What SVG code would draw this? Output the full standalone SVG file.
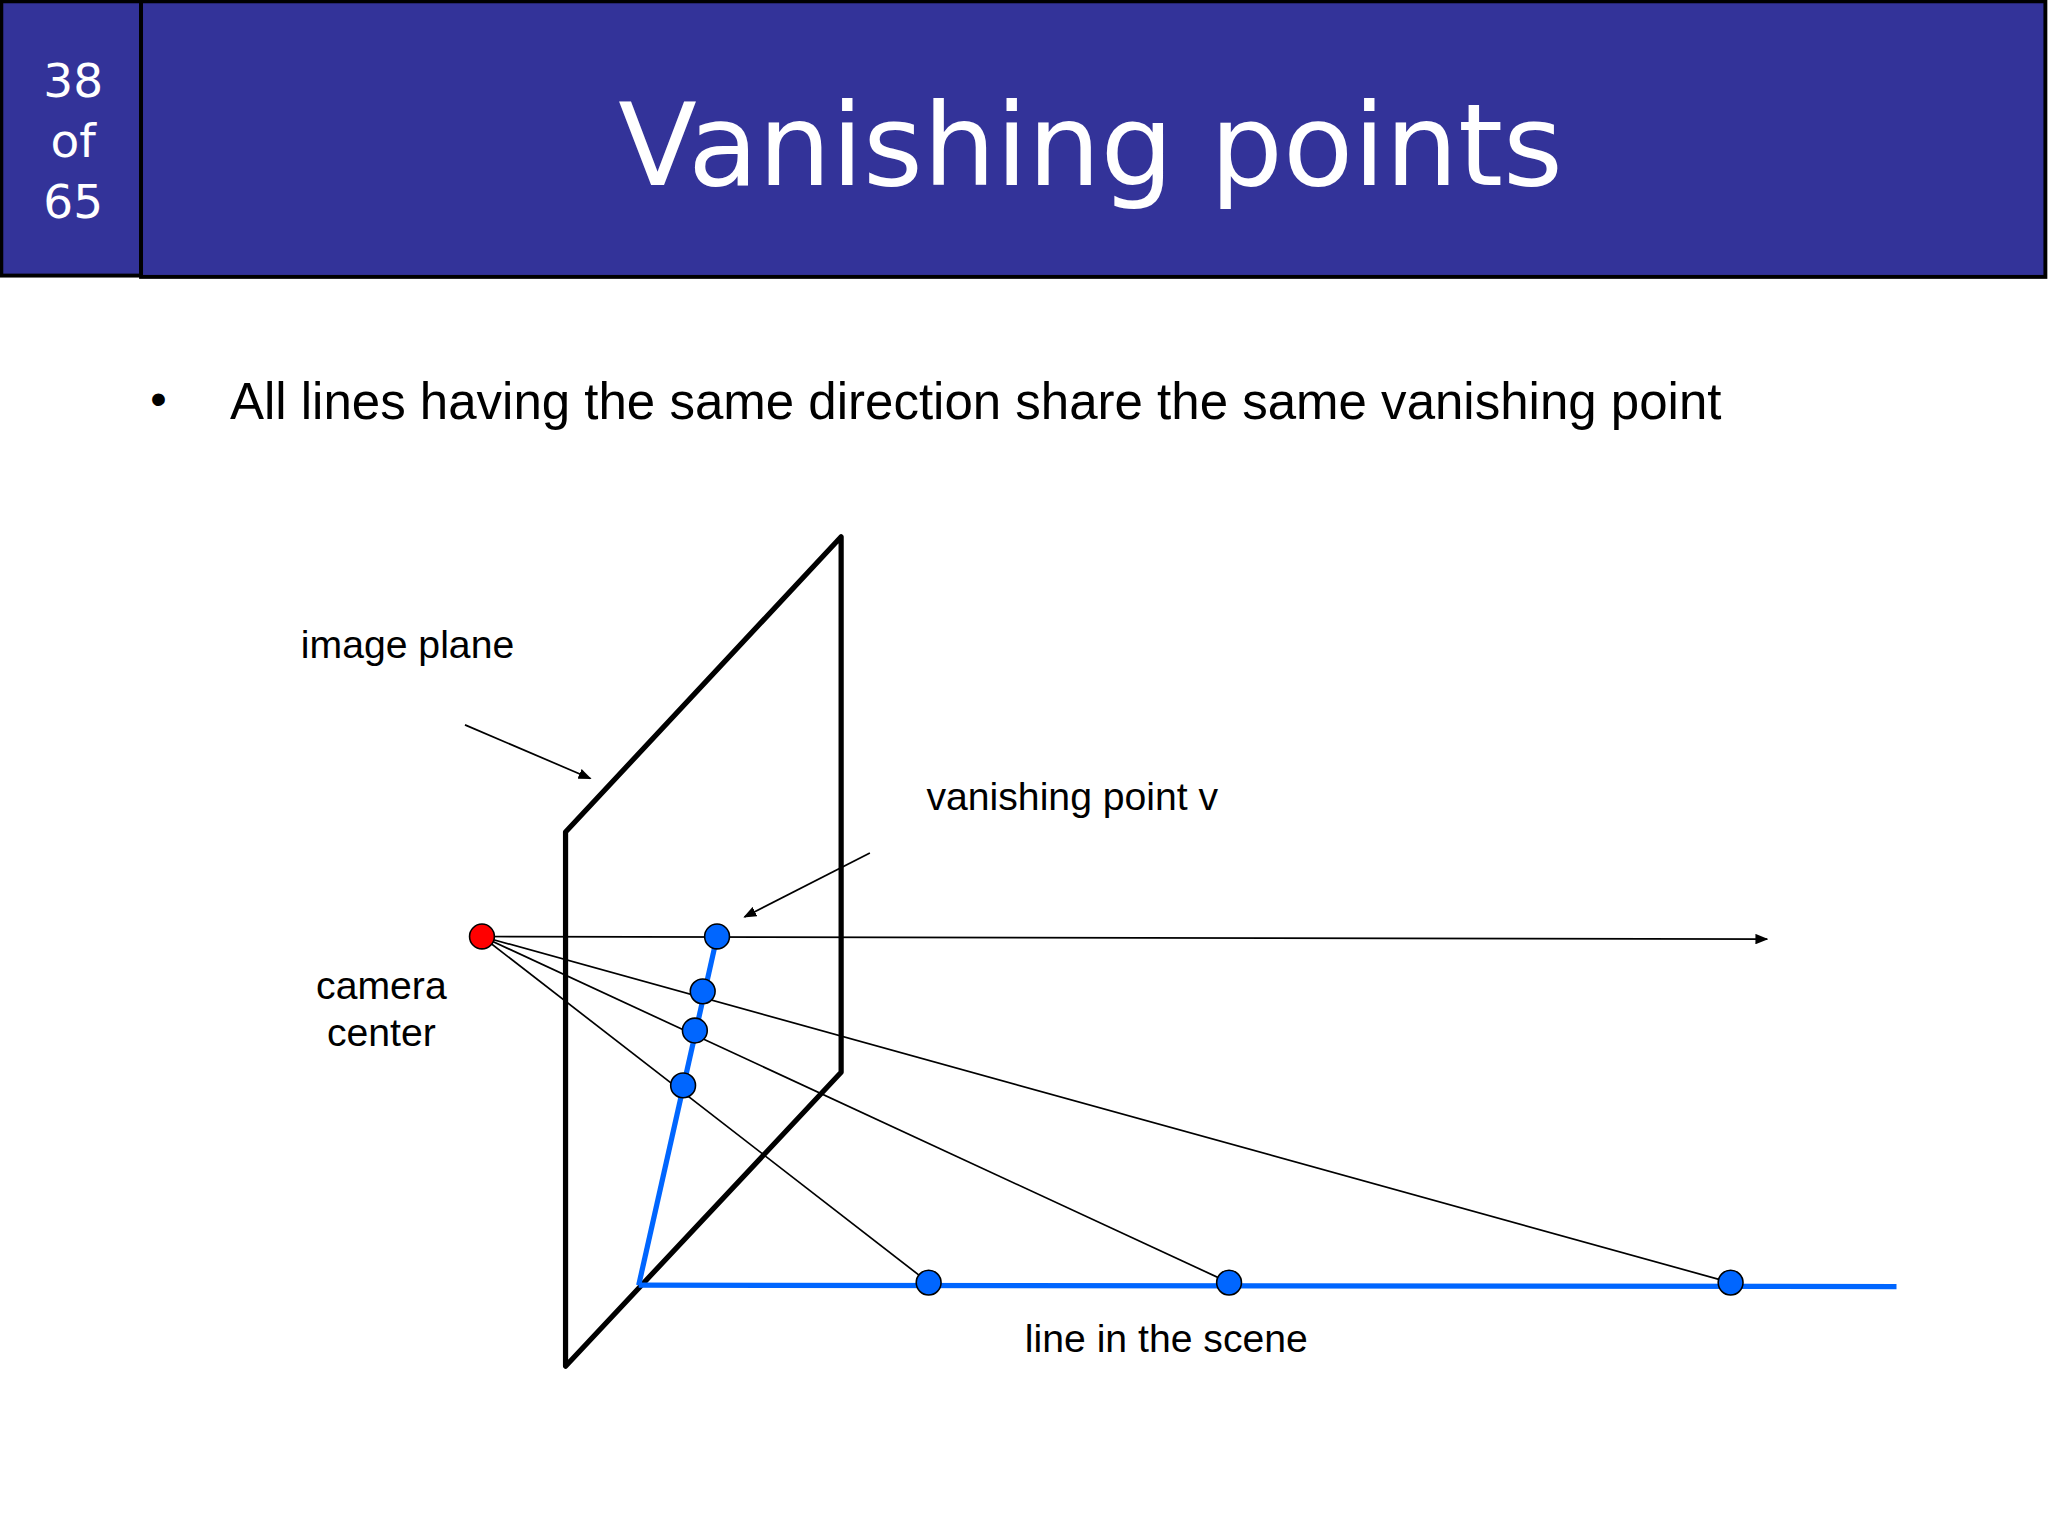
<svg xmlns="http://www.w3.org/2000/svg" width="2048" height="1536" viewBox="0 0 2048 1536">
<style>
.t{font-family:"Liberation Sans",Arial,sans-serif;fill:#000}
.thin{stroke:#000;stroke-width:1.3;fill:none}
.blue{stroke:#0066ff;stroke-width:4;fill:none}
.bp{fill:#0066ff;stroke:#000;stroke-width:1.2}
</style>
<defs>
<marker id="ah" markerWidth="10" markerHeight="8" refX="9" refY="4" orient="auto" markerUnits="userSpaceOnUse"><path d="M0,0 L10,4 L0,8 z" fill="#000"/></marker>
</defs>
<rect width="2048" height="1536" fill="#fff"/>
<g transform="scale(1.30612)">
<g id="header">
<rect x="1" y="1" width="107" height="210" fill="#333399" stroke="#000" stroke-width="3"/>
<rect x="108" y="1" width="1458" height="211" fill="#333399" stroke="#000" stroke-width="3"/>
<text x="56" y="74" font-size="36" text-anchor="middle" fill="#fff" font-family="DejaVu Sans,sans-serif">38</text>
<text x="56" y="120" font-size="36" text-anchor="middle" fill="#fff" font-family="DejaVu Sans,sans-serif">of</text>
<text x="56" y="167" font-size="36" text-anchor="middle" fill="#fff" font-family="DejaVu Sans,sans-serif">65</text>
<text x="835" y="142" font-size="88" text-anchor="middle" fill="#fff" font-family="DejaVu Sans,sans-serif">Vanishing points</text>
</g>
<g id="bullet">
<text x="115" y="318" font-size="36" class="t">•</text>
<text x="176" y="321" font-size="39" class="t" textLength="1142" lengthAdjust="spacingAndGlyphs">All lines having the same direction share the same vanishing point</text>
</g>
<g id="connectors">
<polygon points="433,637 644,411 644,821 433,1046" fill="none" stroke="#000" stroke-width="4" stroke-linejoin="round"/>
<line x1="369" y1="717" x2="1353" y2="719" class="thin" marker-end="url(#ah)"/>
<line x1="369" y1="717" x2="711" y2="982" class="thin"/>
<line x1="369" y1="717" x2="941" y2="982" class="thin"/>
<line x1="369" y1="717" x2="1325" y2="982" class="thin"/>
<line x1="549" y1="717" x2="489" y2="984" class="blue"/>
<line x1="489" y1="984" x2="1452" y2="985" class="blue"/>
<line x1="356" y1="555" x2="452" y2="596" class="thin" marker-end="url(#ah)"/>
<line x1="666" y1="653" x2="570" y2="702" class="thin" marker-end="url(#ah)"/>
</g>
<g id="camera"><circle cx="369" cy="717" r="9.5" fill="#ff0000" stroke="#000" stroke-width="1.2"/></g>
<g id="points">
<circle cx="549" cy="717" r="9.5" class="bp"/>
<circle cx="538" cy="759" r="9.5" class="bp"/>
<circle cx="532" cy="789" r="9.5" class="bp"/>
<circle cx="523" cy="831" r="9.5" class="bp"/>
<circle cx="711" cy="982" r="9.5" class="bp"/>
<circle cx="941" cy="982" r="9.5" class="bp"/>
<circle cx="1325" cy="982" r="9.5" class="bp"/>
</g>
<g id="labels" font-size="30">
<text x="312" y="504" text-anchor="middle" class="t">image plane</text>
<text x="821" y="620" text-anchor="middle" class="t">vanishing point v</text>
<text x="292" y="765" text-anchor="middle" class="t">camera</text>
<text x="292" y="801" text-anchor="middle" class="t">center</text>
<text x="893" y="1035" text-anchor="middle" class="t">line in the scene</text>
</g>
</g>
</svg>
